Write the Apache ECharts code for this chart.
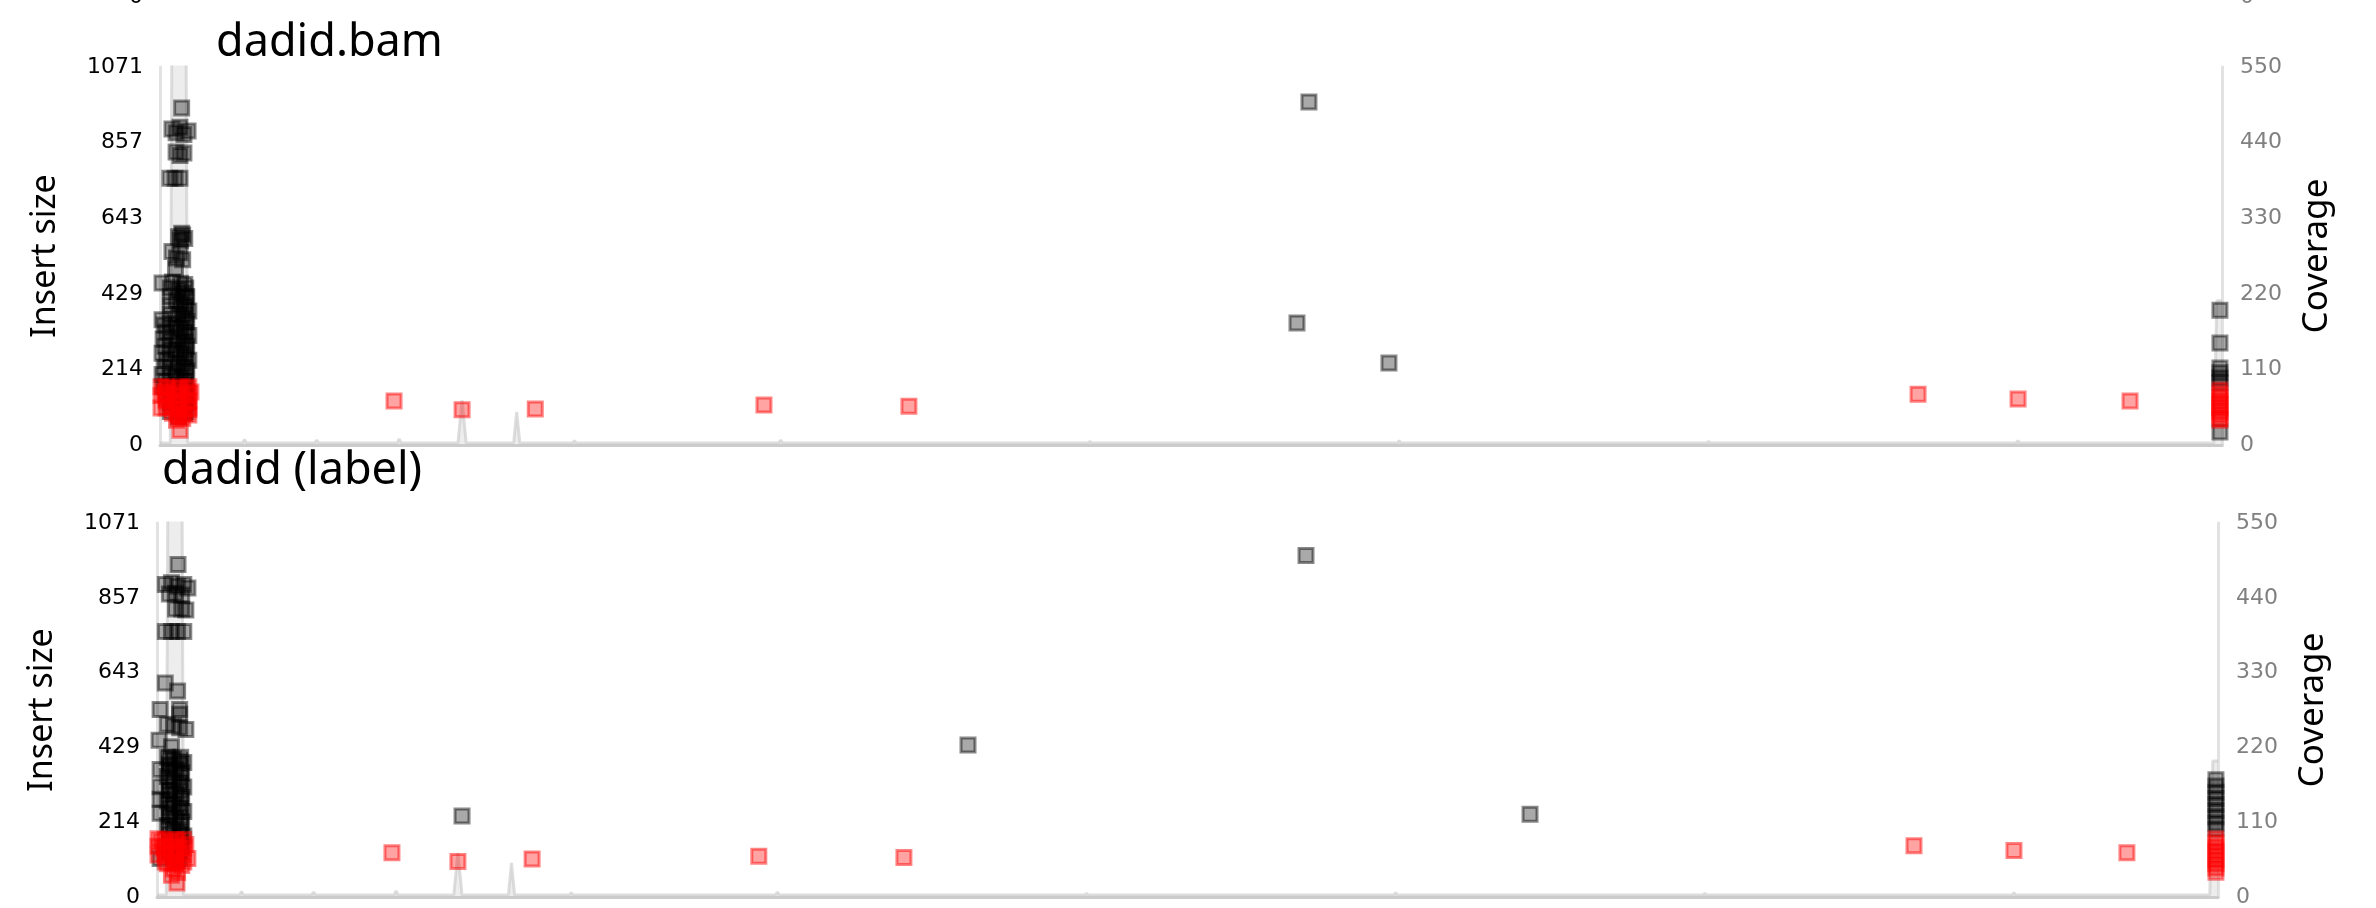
<!DOCTYPE html>
<html>
<head>
<meta charset="utf-8">
<script src="https://cdn.jsdelivr.net/npm/echarts@6/dist/echarts.min.js"></script>
<style>
html,body{margin:0;padding:0;background:#fff;}
#chart{width:2376px;height:908px;}
</style>
</head>
<body>
<div id="chart"></div>
<script>
// ---- Data (x in relative position units 0..1000) ----
const panelTitles = ['dadid.bam', 'dadid (label)'];
const insertTicks = [0, 214, 429, 643, 857, 1071];
const coverageTicks = [0, 110, 220, 330, 440, 550];

// Top panel: insert sizes (black = other pairs, red = proper pairs)
const topBlack = [
  [10.5,955],[5.8,895],[7.8,885],[9.7,900],[11.6,880],[13.6,890],[7.8,830],[9.7,820],[11.6,827],
  [4.8,756],[7.3,756],[9.7,756],[9,590],[11,595],[10,580],[12,585],[10.5,600],[5.8,548],[9.7,545],[8,530],[11,525],
  [7.5,500],[1,459],[6,462],[10,458],[12,455],
  [9,440],[11,430],[13,420],[8,410],[10,400],[12,390],[14,380],[9,370],[11,360],[13,350],[8,340],[10,330],
  [12,320],[14,310],[9,300],[11,290],[13,280],[8,270],[10,260],[12,250],[14,240],[9,230],[11,220],[13,210],
  [8,200],[10,190],[12,180],[9,170],[11,160],[13,150],[10,140],[12,130],[9,120],[11,110],[10,100],[12,90],[9,80],
  [5,445],[5,420],[5,395],[5,370],[5,345],[5,320],[5,295],[5,270],[5,245],[5,220],[5,195],[5,170],[5,145],[5,120],[5,95],
  [12.5,445],[12.5,420],[12.5,395],[12.5,370],[12.5,345],[12.5,320],[12.5,295],[12.5,270],[12.5,245],[12.5,220],
  [12.5,195],[12.5,170],[12.5,145],[12.5,120],[12.5,95],
  [1,355],[2,340],[3,320],[1.5,300],[2.5,280],[1,260],[3,240],[2,220],[1,200],[2.5,180],[1.5,165],
  [557.2,972],[551.4,346],[596,232],
  [999,382],[999,289],[999,218],[999,205],[999,190],[999,176],[999,37]
];
const topRed = [
  [0.5,165],[0.5,140],[0.5,105],[2,150],[3,130],[4,160],[5,110],[6,90],[7,150],[8,120],[9,80],[9.5,100],
  [10,165],[11,140],[12,90],[13,160],[13.5,120],[14,100],[15,150],[8,70],[11,75],[9.7,42],
  [3,165],[3,145],[3,125],[3,105],[9,160],[9,140],[9,120],[9,100],[9,85],[14,165],[14,145],[14,125],[14,105],[14,85],
  [113.5,125],[146.5,100],[182,102],[292.9,113],[363.2,110],[852.6,144],[901.1,130],[955.4,125],
  [999,156],[999,145],[999,135],[999,125],[999,115],[999,105],[999,95],[999,85],[999,75],[999,70]
];
const topCovX = [0,5,5.8,12.6,13.4,40,41,42,75,76,77,115,116,117,144.5,146.5,148.5,171.5,173,174.5,200,201,202,300,301,302,450,451,452,600,601,602,750,751,752,900,901,902,996,997.5,1000];
const topCovY = [3,3,640,640,3,3,8,3,3,7,3,3,9,3,3,65,3,3,48,3,3,6,3,3,7,3,3,5,3,3,6,3,3,5,3,3,6,3,3,210,210];

// Bottom panel
const botBlack = [
  [10.2,952],[4,895],[7,900],[10,890],[13,895],[15,885],[6,868],[9,870],[12,865],[9,825],[12,825],[14,822],
  [4,760],[7,760],[10,760],[13,760],[4,613],[10,590],[1.5,537],[11,537],[11,523],[5,495],[8,490],[11,485],[14,480],
  [1,449],[7,430],
  [5,400],[8,395],[11,390],[13,385],[6,375],[9,365],[12,355],[5,345],[8,335],[11,325],[13,315],[6,305],[9,295],
  [12,285],[5,275],[8,265],[11,255],[13,245],[6,235],[9,225],[12,215],[5,205],[8,195],[11,185],[13,175],[6,165],
  [9,155],[12,145],[7,135],[10,125],[8,115],[11,110],[10,105],
  [6,400],[6,380],[6,355],[6,330],[6,305],[6,280],[6,255],[6,230],[6,205],[6,180],[6,155],[6,130],
  [11.5,400],[11.5,380],[11.5,355],[11.5,330],[11.5,305],[11.5,280],[11.5,255],[11.5,230],[11.5,205],[11.5,180],[11.5,155],[11.5,130],
  [1.5,365],[1.5,316],[1.5,280],[1.5,240],[1.5,110],
  [557.5,978],[393.5,435],[148,232],[666.2,237],
  [999,336],[999,318],[999,300],[999,282],[999,265],[999,248],[999,230],[999,212],[999,195]
];
const botRed = [
  [0.5,167],[0.5,145],[0.5,120],[2,160],[3,140],[4,115],[5,95],[6,155],[7,130],[8,80],[9,100],[10,160],
  [11,140],[12,90],[13,120],[14,150],[15,110],[7,62],[10,70],[9.7,40],
  [4,165],[4,145],[4,125],[4,100],[9,165],[9,145],[9,120],[9,95],[13,165],[13,140],[13,100],
  [114,127],[146,102],[182,109],[292,117],[362.4,113],[852.5,147],[901,133],[955.8,127],
  [999,167],[999,155],[999,143],[999,131],[999,119],[999,107],[999,95],[999,83],[999,71]
];
const botCovX = [0,4.5,5.3,12.1,12.9,40,41,42,75,76,77,115,116,117,144,146,148,170.5,172,173.5,200,201,202,300,301,302,450,451,452,600,601,602,750,751,752,900,901,902,996,997.5,1000];
const botCovY = [3,3,640,640,3,3,8,3,3,7,3,3,9,3,3,65,3,3,50,3,3,6,3,3,7,3,3,5,3,3,6,3,3,5,3,3,6,3,3,200,200];

// ---- Chart ----
const chart = echarts.init(document.getElementById('chart'));
const grids = [
  {left: 160, right: 154, top: 67, height: 378},
  {left: 157, right: 158, top: 523, height: 379}
];
const tickFont = 'DejaVu Sans';
const nameFont = 'Noto Sans';

function yAxes(gi) {
  return [
    {
      type: 'value', gridIndex: gi, position: 'left', min: 0, max: 1071, interval: 1071 / 5,
      axisLine: {show: true, lineStyle: {color: '#e2e2e2', width: 3}},
      axisTick: {show: false}, splitLine: {show: false},
      axisLabel: {color: '#000', fontFamily: tickFont, fontSize: 22, margin: 17,
        formatter: v => String(insertTicks[Math.round(v / (1071 / 5))])},
      name: 'Insert size', nameLocation: 'middle', nameGap: 98, nameRotate: 90,
      nameTextStyle: {color: '#000', fontFamily: nameFont, fontSize: 34}
    },
    {
      type: 'value', gridIndex: gi, position: 'right', min: 0, max: 550, interval: 110,
      axisLine: {show: true, lineStyle: {color: '#e2e2e2', width: 3}},
      axisTick: {show: false}, splitLine: {show: false},
      axisLabel: {color: '#808080', fontFamily: tickFont, fontSize: 22, margin: 18,
        formatter: v => String(coverageTicks[Math.round(v / 110)])},
      name: 'Coverage', nameLocation: 'middle', nameGap: 78, nameRotate: 90,
      nameTextStyle: {color: '#000', fontFamily: nameFont, fontSize: 35}
    }
  ];
}
function xAxis(gi) {
  return {
    type: 'value', gridIndex: gi, min: 0, max: 1000,
    axisLine: {show: true, onZero: false, lineStyle: {color: '#cccccc', width: 3}},
    axisTick: {show: false}, axisLabel: {show: false}, splitLine: {show: false}
  };
}
function zipXY(xs, ys) { return xs.map((x, i) => [x, ys[i]]); }
function panelSeries(gi, black, red, covX, covY) {
  const yl = gi * 2, yr = gi * 2 + 1;
  return [
    {
      type: 'line', xAxisIndex: gi, yAxisIndex: yr, data: zipXY(covX, covY),
      showSymbol: false, symbol: 'none', z: 1, silent: true,
      lineStyle: {color: 'rgba(200,200,200,0.6)', width: 3},
      areaStyle: {color: 'rgba(205,205,205,0.5)'}
    },
    {
      type: 'scatter', xAxisIndex: gi, yAxisIndex: yl, data: black, symbol: 'rect', symbolSize: 14, z: 3,
      itemStyle: {color: 'rgba(0,0,0,0.42)', borderColor: 'rgba(0,0,0,0.58)', borderWidth: 3}
    },
    {
      type: 'scatter', xAxisIndex: gi, yAxisIndex: yl, data: red, symbol: 'rect', symbolSize: 14, z: 4,
      itemStyle: {color: 'rgba(255,0,0,0.45)', borderColor: 'rgba(255,0,0,0.6)', borderWidth: 3}
    }
  ];
}

chart.setOption({
  animation: false,
  backgroundColor: '#ffffff',
  title: [
    {text: panelTitles[0], left: 211, top: 16, textStyle: {fontFamily: nameFont, fontSize: 45, fontWeight: 'normal', color: '#000'}},
    {text: panelTitles[1], left: 157, top: 444, textStyle: {fontFamily: nameFont, fontSize: 45, fontWeight: 'normal', color: '#000'}}
  ],
  grid: grids,
  xAxis: [xAxis(0), xAxis(1)],
  yAxis: [...yAxes(0), ...yAxes(1)],
  series: [
    ...panelSeries(0, topBlack, topRed, topCovX, topCovY),
    ...panelSeries(1, botBlack, botRed, botCovX, botCovY)
  ],
  graphic: [
    {type: 'text', left: 129, top: -14, style: {text: '0', font: '22px "DejaVu Sans"', fill: '#000'}},
    {type: 'text', left: 2240, top: -14, style: {text: '0', font: '22px "DejaVu Sans"', fill: '#808080'}}
  ]
});
</script>
</body>
</html>
